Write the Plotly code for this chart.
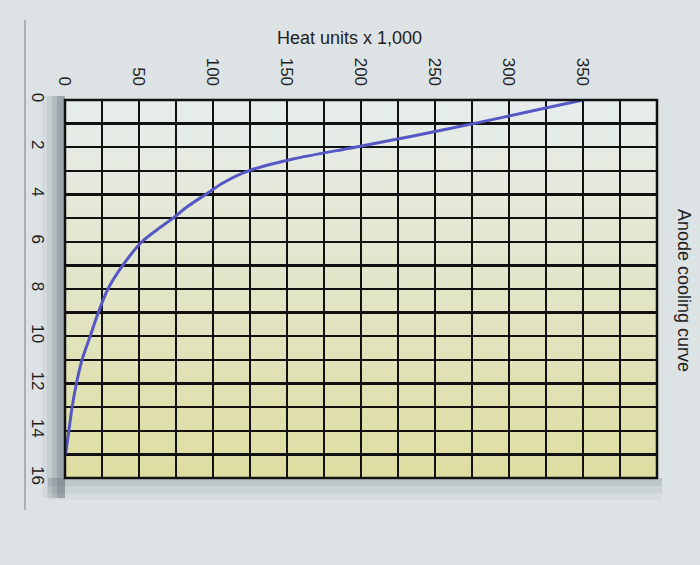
import plotly.graph_objects as go

# Data
minutes = [0, 0.5, 1, 1.5, 2, 2.5, 3, 3.5, 4, 4.5, 5, 5.5, 6, 7, 8, 9, 10, 11, 12, 13, 14, 15]
heat_units = [350, 313, 276, 237, 196, 154, 124, 107, 95, 83, 73, 62, 52, 39, 29, 22.5, 17, 11.5, 7.7, 4.8, 2.6, 0.4]

x_ticks = [0, 50, 100, 150, 200, 250, 300, 350]
y_ticks = [0, 2, 4, 6, 8, 10, 12, 14, 16]

W, H = 700, 565
L, R, T, B = 65, 43, 100, 87

fig = go.Figure()
fig.add_trace(go.Scatter(
    x=heat_units, y=minutes, mode="lines",
    line=dict(color="#5558c4", width=3, shape="spline", smoothing=0.9),
    hoverinfo="skip", showlegend=False,
))

shapes = []
# plot background gradient (top bluish-white to bottom pale yellow)
top = (230, 237, 236)
bot = (223, 222, 162)
n = 24
for i in range(n):
    t = i / (n - 1)
    c = tuple(int(top[k] + (bot[k] - top[k]) * t) for k in range(3))
    shapes.append(dict(type="rect", xref="x domain", yref="y domain",
                       x0=0, x1=1, y0=1 - (i + 1) / n, y1=1 - i / n,
                       fillcolor="rgb(%d,%d,%d)" % c, line=dict(width=0), layer="below"))

def px2paper_x(px):
    return (px - L) / (W - L - R)

def px2paper_y(py):
    return (H - B - py) / (H - T - B)

# shadow on the left and bottom of the sheet
for i, a in enumerate([0.05, 0.08, 0.11, 0.14]):
    shapes.append(dict(type="rect", xref="paper", yref="paper",
                       x0=px2paper_x(42 + i * 5), x1=px2paper_x(65),
                       y0=px2paper_y(498), y1=px2paper_y(96),
                       fillcolor="rgba(40,45,60,%f)" % a, line=dict(width=0), layer="below"))
for i, a in enumerate([0.04, 0.06, 0.08]):
    shapes.append(dict(type="rect", xref="paper", yref="paper",
                       x0=px2paper_x(48), x1=px2paper_x(662),
                       y0=px2paper_y(500 - i * 7), y1=px2paper_y(478),
                       fillcolor="rgba(40,45,60,%f)" % a, line=dict(width=0), layer="below"))
# faint ruler line on the left
shapes.append(dict(type="line", xref="paper", yref="paper",
                   x0=px2paper_x(25), x1=px2paper_x(25),
                   y0=px2paper_y(510), y1=px2paper_y(20),
                   line=dict(color="#8a9090", width=1.2)))
# plot border
shapes.append(dict(type="rect", xref="x domain", yref="y domain",
                   x0=0, x1=1, y0=0, y1=1, line=dict(color="#111111", width=2.5)))

fig.update_layout(
    width=W, height=H,
    margin=dict(l=L, r=R, t=T, b=B),
    paper_bgcolor="#dde3e5",
    plot_bgcolor="rgba(0,0,0,0)",
    font=dict(family="Liberation Sans, Arial, sans-serif", color="#1e1e1e", size=14),
    shapes=shapes,
    xaxis=dict(
        side="top", range=[0, 400], tickvals=x_ticks, tickangle=90,
        ticks="outside", ticklen=7, tickcolor="rgba(0,0,0,0)",
        showgrid=True, gridcolor="#111111", gridwidth=2.4,
        minor=dict(dtick=25, tick0=0, showgrid=True, gridcolor="#111111", gridwidth=2.4),
        zeroline=False, showline=False, tickfont=dict(size=17),
        fixedrange=True,
    ),
    yaxis=dict(
        range=[16, 0], tickvals=y_ticks, tickangle=90,
        ticks="outside", ticklen=12, tickcolor="rgba(0,0,0,0)",
        showgrid=True, gridcolor="#111111", gridwidth=2.4,
        minor=dict(dtick=1, tick0=0, showgrid=True, gridcolor="#111111", gridwidth=2.4),
        zeroline=False, showline=False, tickfont=dict(size=17),
        fixedrange=True,
    ),
    annotations=[
        dict(text="Heat units x 1,000", xref="paper", yref="paper",
             x=px2paper_x(349), y=px2paper_y(38), xanchor="center", yanchor="middle",
             showarrow=False, font=dict(size=18, color="#1e1e1e")),
        dict(text="Anode cooling curve", xref="paper", yref="paper",
             x=px2paper_x(684), y=px2paper_y(290), xanchor="center", yanchor="middle",
             showarrow=False, textangle=90, font=dict(size=18, color="#1e1e1e")),
    ],
)

fig.write_html("out.html", post_script="document.body.style.margin='0';",
               config={"displayModeBar": False, "staticPlot": True})
